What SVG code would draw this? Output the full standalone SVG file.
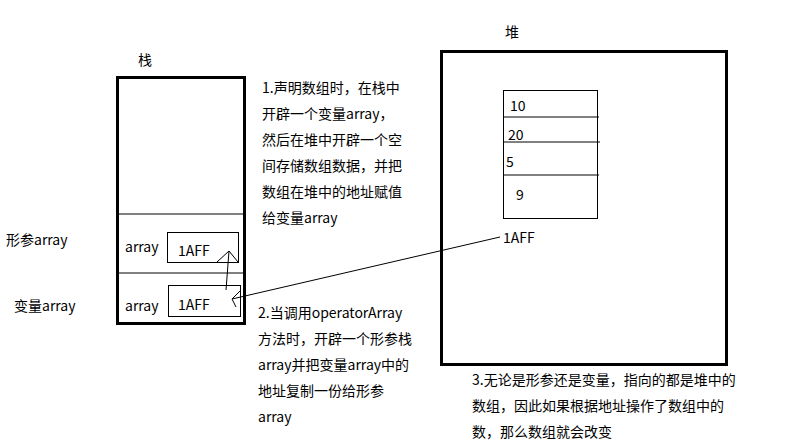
<svg xmlns="http://www.w3.org/2000/svg" width="792" height="446" viewBox="0 0 792 446">
<style>
text{font-family:"Noto Sans CJK SC","Liberation Sans",sans-serif;font-size:14px;fill:#000}
.b{fill:none;stroke:#000;stroke-width:3}
.t{fill:none;stroke:#000;stroke-width:1}
</style>
<rect width="792" height="446" fill="#fff"/>
<g id="stack">
<text x="138" y="65">栈</text>
<rect class="b" x="117.5" y="77.5" width="127" height="246"/>
<line class="t" x1="118" y1="214" x2="244" y2="214"/>
<line class="t" x1="118" y1="273" x2="244" y2="273"/>
<text x="125" y="252" font-size="15">array</text>
<rect class="t" x="167.5" y="232.5" width="71" height="30"/>
<text x="178" y="256" font-size="15">1AFF</text>
<text x="125" y="311" font-size="15">array</text>
<rect class="t" x="168.5" y="285.5" width="72" height="31"/>
<text x="178" y="310" font-size="15">1AFF</text>
</g>
<g id="labels">
<text x="6" y="245">形参array</text>
<text x="14" y="311">变量array</text>
<text x="262" y="93">1.声明数组时，在栈中</text>
<text x="262" y="119">开辟一个变量array，</text>
<text x="262" y="145">然后在堆中开辟一个空</text>
<text x="262" y="171">间存储数组数据，并把</text>
<text x="262" y="197">数组在堆中的地址赋值</text>
<text x="262" y="223">给变量array</text>
<text x="258" y="318">2.当调用operatorArray</text>
<text x="258" y="344">方法时，开辟一个形参栈</text>
<text x="258" y="370">array并把变量array中的</text>
<text x="258" y="396">地址复制一份给形参</text>
<text x="258" y="422">array</text>
<text x="472" y="385">3.无论是形参还是变量，指向的都是堆中的</text>
<text x="472" y="411">数组，因此如果根据地址操作了数组中的</text>
<text x="472" y="437">数，那么数组就会改变</text>
</g>
<g id="heap">
<text x="505" y="37">堆</text>
<rect class="b" x="441.5" y="51.5" width="285" height="313"/>
<rect class="t" x="503.5" y="90.5" width="94" height="128"/>
<line class="t" x1="504" y1="117" x2="599" y2="117"/>
<line class="t" x1="504" y1="142" x2="600" y2="142"/>
<line class="t" x1="504" y1="175" x2="599" y2="175"/>
<text x="510" y="111" font-size="15">10</text>
<text x="508" y="140" font-size="15">20</text>
<text x="506" y="167" font-size="15">5</text>
<text x="516" y="200" font-size="15">9</text>
<text x="503" y="243" font-size="15">1AFF</text>
</g>
<g id="connectors" class="t">
<line x1="226" y1="290" x2="229" y2="251"/>
<polyline points="217,262 229,251 238,262"/>
<line x1="500" y1="237" x2="232" y2="299"/>
<polyline points="240,291 232,299 236,307"/>
</g>
</svg>
